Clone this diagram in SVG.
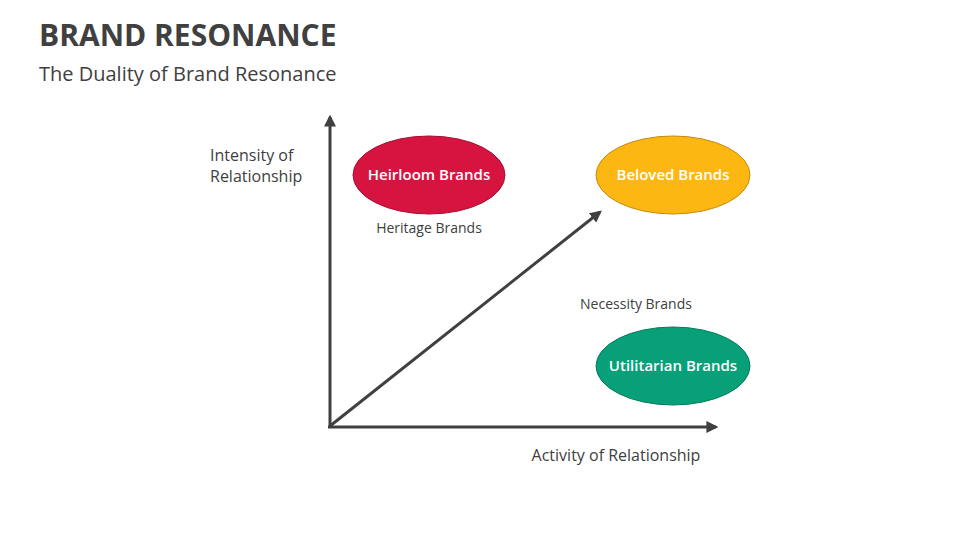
<svg xmlns="http://www.w3.org/2000/svg" width="960" height="540" viewBox="0 0 960 540">
<style>
text{font-family:"Open Sans","Noto Sans","Liberation Sans",sans-serif}
.lbl{font-size:14px;fill:#404040}
.big{font-size:16px}
.n{font-size:15px;font-weight:600;fill:#fff;text-anchor:middle}
.ax{stroke:#404040;stroke-width:3;fill:none}
.e{stroke-width:1}
</style>
<defs>
<marker id="ah" viewBox="0 0 10 10" refX="8" refY="5" markerWidth="4" markerHeight="4" orient="auto"><path d="M0,0L10,5L0,10z" fill="#404040"/></marker>
</defs>
<rect width="960" height="540" fill="#fff"/>
<text x="39" y="46" font-size="30" font-weight="bold" fill="#404040">BRAND RESONANCE</text>
<text x="39" y="81" font-size="20" fill="#404040">The Duality of Brand Resonance</text>
<g id="connectors">
<path class="ax" d="M330,427V117" marker-end="url(#ah)"/>
<path class="ax" d="M328,427H716" marker-end="url(#ah)"/>
<path class="ax" d="M330,426L600,212" marker-end="url(#ah)"/>
</g>
<g id="heirloom"><ellipse class="e" cx="429" cy="175" rx="76" ry="39" fill="#D71440" stroke="#a50f30"/><text class="n" x="429" y="180">Heirloom Brands</text></g>
<g id="beloved"><ellipse class="e" cx="673" cy="175" rx="77" ry="39" fill="#FDB713" stroke="#c38b0a"/><text class="n" x="673" y="180">Beloved Brands</text></g>
<g id="utilitarian"><ellipse class="e" cx="673" cy="366" rx="77" ry="39" fill="#07A079" stroke="#067a5d"/><text class="n" x="673" y="371">Utilitarian Brands</text></g>
<text class="lbl" x="429" y="233" text-anchor="middle">Heritage Brands</text>
<text class="lbl" x="636" y="309" text-anchor="middle">Necessity Brands</text>
<text class="lbl big" x="210" y="161">Intensity of</text>
<text class="lbl big" x="210" y="182">Relationship</text>
<text class="lbl big" x="616" y="461" text-anchor="middle">Activity of Relationship</text>
</svg>
